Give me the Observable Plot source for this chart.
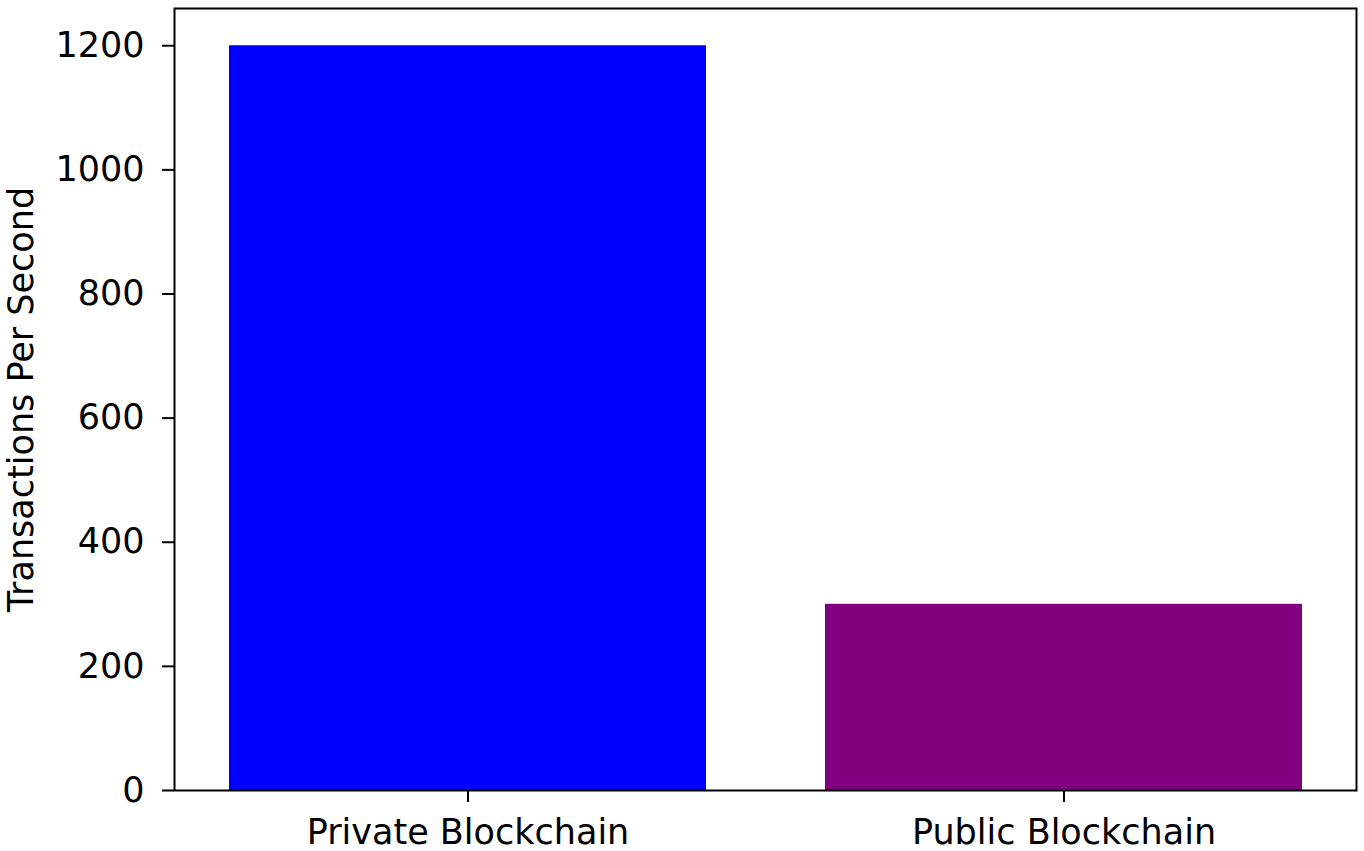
<!DOCTYPE html>
<html>
<head>
<meta charset="utf-8">
<script src="https://cdn.jsdelivr.net/npm/d3@7"></script>
<script src="https://cdn.jsdelivr.net/npm/@observablehq/plot@0.6"></script>
<style>
  html, body { margin: 0; padding: 0; background: #fff; }
</style>
</head>
<body>
<div id="chart"></div>
<script>
const categories = ["Private Blockchain", "Public Blockchain"];
const tps = [1200, 300];
const colors = ["#0000ff", "#800080"];
const yTicks = [0, 200, 400, 600, 800, 1000, 1200];

const data = categories.map((c, i) => ({category: c, value: tps[i], color: colors[i]}));

const chart = Plot.plot({
  width: 1364,
  height: 851,
  marginLeft: 174,
  marginRight: 8,
  marginTop: 8,
  marginBottom: 61,
  style: {fontFamily: "DejaVu Sans", fontSize: "35px", color: "#000", background: "#fff"},
  x: {domain: categories, paddingInner: 0.2, paddingOuter: 0.09},
  y: {domain: [0, 1260]},
  marks: [
    Plot.barY(data, {x: "category", y: "value", fill: "color"}),
    Plot.axisX({tickSize: 12, tickPadding: 17, strokeWidth: 2, label: null, fontSize: 35}),
    Plot.axisY({ticks: yTicks, tickFormat: d3.format("d"), tickSize: 12, tickPadding: 18, strokeWidth: 2, fontSize: 35,
      label: "Transactions Per Second", labelAnchor: "center", labelArrow: "none", labelOffset: 166}),
    Plot.frame({stroke: "#000", strokeWidth: 2})
  ]
});
document.getElementById("chart").appendChild(chart);
</script>
</body>
</html>
